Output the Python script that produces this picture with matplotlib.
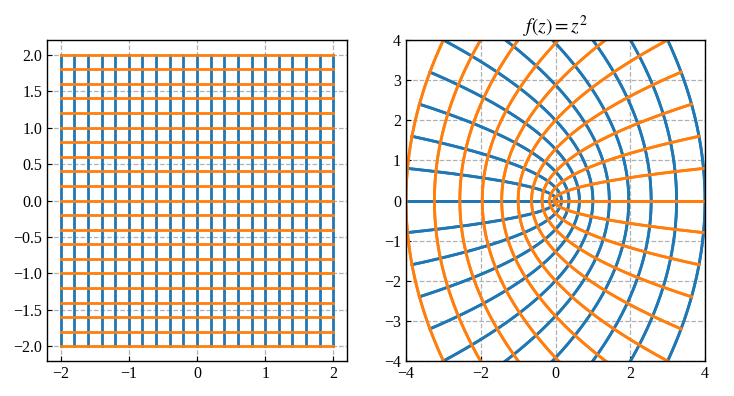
import numpy as np
import matplotlib
matplotlib.use('Agg')
import matplotlib.pyplot as plt

# 字体与刻度风格
plt.rcParams['font.family'] = ['Liberation Serif', 'DejaVu Serif']
plt.rcParams['mathtext.fontset'] = 'stix'
plt.rcParams['font.size'] = 11.5
plt.rcParams['xtick.direction'] = 'in'
plt.rcParams['ytick.direction'] = 'in'

# 网格线位置（原平面 z 上的 x=常数 与 y=常数）
x_lines = [-2.0, -1.8, -1.6, -1.4, -1.2, -1.0, -0.8, -0.6, -0.4, -0.2, 0.0,
           0.2, 0.4, 0.6, 0.8, 1.0, 1.2, 1.4, 1.6, 1.8, 2.0]
y_lines = [-2.0, -1.8, -1.6, -1.4, -1.2, -1.0, -0.8, -0.6, -0.4, -0.2, 0.0,
           0.2, 0.4, 0.6, 0.8, 1.0, 1.2, 1.4, 1.6, 1.8, 2.0]
span = (-2.0, 2.0)
title = r'$f(z) = z^2$'


def f(z):
    return z ** 2


blue = '#1f77b4'
orange = '#ff7f0e'
lw = 2.0

fig = plt.figure(figsize=(7.34, 3.96), dpi=100)
ax1 = fig.add_axes([47 / 734, 35 / 396, 300 / 734, 321 / 396])
ax2 = fig.add_axes([406 / 734, 35 / 396, 299 / 734, 321 / 396])

t = np.linspace(span[0], span[1], 200)

# 左图：原始网格
for c in x_lines:
    ax1.plot(np.full_like(t, c), t, color=blue, lw=lw)
for d in y_lines:
    ax1.plot(t, np.full_like(t, d), color=orange, lw=lw)

# 右图：映射后的网格
for c in x_lines:
    w = f(c + 1j * t)
    ax2.plot(w.real, w.imag, color=blue, lw=lw)
for d in y_lines:
    w = f(t + 1j * d)
    ax2.plot(w.real, w.imag, color=orange, lw=lw)

ax1.set_xticks([-2, -1, 0, 1, 2])
ax1.set_yticks([-2.0, -1.5, -1.0, -0.5, 0.0, 0.5, 1.0, 1.5, 2.0])
ax1.set_yticklabels([f'{v:.1f}'.replace('-', '\u2212') for v in ax1.get_yticks()])

ax2.set_xlim(-4, 4)
ax2.set_ylim(-4, 4)
ax2.set_xticks([-4, -2, 0, 2, 4])
ax2.set_yticks([-4, -3, -2, -1, 0, 1, 2, 3, 4])
ax2.set_title(title, fontsize=14, pad=5)

for ax in (ax1, ax2):
    ax.grid(True, linestyle='--', color='#b0b0b0', linewidth=0.9)
    ax.set_axisbelow(True)
    for s in ax.spines.values():
        s.set_linewidth(1.0)

plt.savefig('out.png', dpi=100)
